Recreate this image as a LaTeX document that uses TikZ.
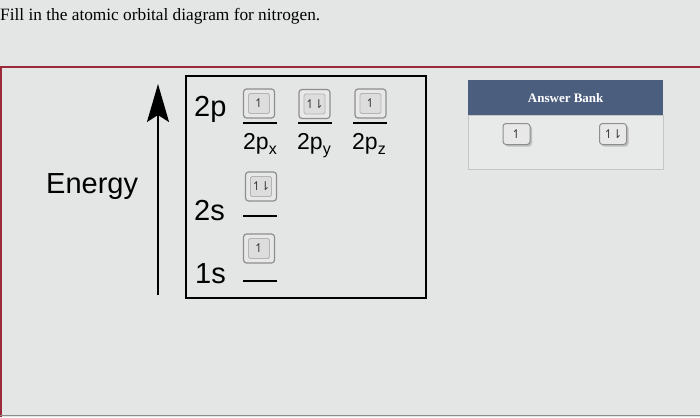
\documentclass[tikz,border=0pt]{standalone}
\usepackage{fontspec}
\setmainfont{Liberation Serif}
\newfontfamily\arialf{Liberation Sans}
\newfontfamily\djv{DejaVu Sans}
\usetikzlibrary{arrows.meta}
\definecolor{bgc}{HTML}{E3E6E4}
\definecolor{redc}{HTML}{9B2A3A}
\definecolor{hdrc}{HTML}{4B5E7E}
\definecolor{tilebd}{HTML}{8E8E8E}
\definecolor{tilefill}{HTML}{E8E8E8}
\definecolor{innerbd}{HTML}{B4B4B4}
\definecolor{innerfill}{HTML}{DCDDDC}
\definecolor{bankbd}{HTML}{C4C6C5}
\definecolor{bankfill}{HTML}{E8EAE9}
\newcommand{\upspin}{↿}
\newcommand{\pairspin}{↿\kern-1.5pt⇂}
\tikzset{
  tileouter/.style={draw=tilebd, fill=tilefill, line width=1.2pt, rounded corners=3pt, minimum width=31pt, minimum height=29pt, inner sep=0pt},
  tileinner/.style={draw=innerbd, fill=innerfill, line width=0.8pt, rounded corners=1.5pt, minimum width=21pt, minimum height=20pt, inner sep=0pt, font=\djv\fontsize{12}{12}\selectfont, text=black!75},
  banktile/.style={draw=tilebd, fill=tilefill, line width=1pt, rounded corners=3pt, minimum width=27pt, minimum height=21pt, inner sep=0pt, font=\djv\fontsize{12}{12}\selectfont, text=black!75},
  bankshadow/.style={fill=black!25, rounded corners=3pt, minimum width=27pt, minimum height=21pt, inner sep=0pt},
  biglbl/.style={font=\arialf\fontsize{29}{31}\selectfont, anchor=base west, inner sep=0pt},
  sublbl/.style={font=\arialf\fontsize{23}{26}\selectfont, anchor=base west, inner sep=0pt},
  orbline/.style={line width=2pt, black}
}
\begin{document}
\begin{tikzpicture}[x=1pt,y=-1pt]
\useasboundingbox (0,0) rectangle (700,417);
\fill[bgc] (0,0) rectangle (700,417);
% title
\node[anchor=base west, inner sep=0pt, font=\fontsize{17.3}{20}\selectfont] (title) at (0,21) {Fill in the atomic orbital diagram for nitrogen.};
% red frame
\draw[redc, line width=2pt] (0,67) -- (700,67);
\draw[redc, line width=2pt] (1,67) -- (1,417);
\draw[black!45, line width=1.5pt] (0,415.5) -- (700,415.5);
% Energy
\node[anchor=base west, inner sep=0pt, font=\arialf\fontsize{29}{32}\selectfont] (energy) at (46,193) {Energy};
% arrow
\coordinate (abot) at (158,295);
\coordinate (atop) at (158,84);
\draw[line width=2pt, -{Stealth[length=38pt,width=22pt,inset=7pt]}] (abot) -- (atop);
% frame box
\node[draw, line width=2pt, minimum width=240pt, minimum height=222pt, anchor=north west, inner sep=0pt] (frame) at (185,75) {};
% level labels
\node[biglbl] (l2p) at (194,116) {2p};
\node[biglbl] (l2s) at (194,220) {2s};
\node[biglbl] (l1s) at (195,283) {1s};
% orbital lines
\draw[orbline] (243,123) -- (277,123);
\draw[orbline] (298,123) -- (332,123);
\draw[orbline] (353,123) -- (387,123);
\draw[orbline] (243,216) -- (277,216);
\draw[orbline] (243,281) -- (277,281);
% sublabels
\node[sublbl] (px) at (243,149) {2p\raisebox{-0.22em}{\fontsize{16}{16}\selectfont x}};
\node[sublbl] (py) at (297,149) {2p\raisebox{-0.22em}{\fontsize{16}{16}\selectfont y}};
\node[sublbl] (pz) at (352,149) {2p\raisebox{-0.22em}{\fontsize{16}{16}\selectfont z}};
% tiles in diagram
\node[tileouter] (t2px) at (259,103.5) {};
\node[tileinner] (t2pxi) at (t2px) {\upspin};
\node[tileouter] (t2py) at (314.5,104) {};
\node[tileinner] (t2pyi) at (t2py) {\pairspin};
\node[tileouter] (t2pz) at (370.5,103.5) {};
\node[tileinner] (t2pzi) at (t2pz) {\upspin};
\node[tileouter] (t2s) at (261,186.5) {};
\node[tileinner] (t2si) at (t2s) {\pairspin};
\node[tileouter] (t1s) at (259,248.5) {};
\node[tileinner] (t1si) at (t1s) {\upspin};
% answer bank
\node[draw=bankbd, fill=bankfill, line width=1pt, minimum width=195pt, minimum height=54pt, anchor=north west, inner sep=0pt] (bankbody) at (468,115) {};
\node[fill=hdrc, minimum width=195pt, minimum height=35pt, anchor=north west, inner sep=0pt, text=white, font=\bfseries\fontsize{13}{15}\selectfont] (bankhdr) at (468,80) {Answer Bank};
\node[bankshadow] (s1) at (518.5,136) {};
\node[banktile] (b1) at (516.5,134) {\upspin};
\node[bankshadow] (s2) at (615,136) {};
\node[banktile] (b2) at (613,134) {\pairspin};
\end{tikzpicture}
\end{document}
